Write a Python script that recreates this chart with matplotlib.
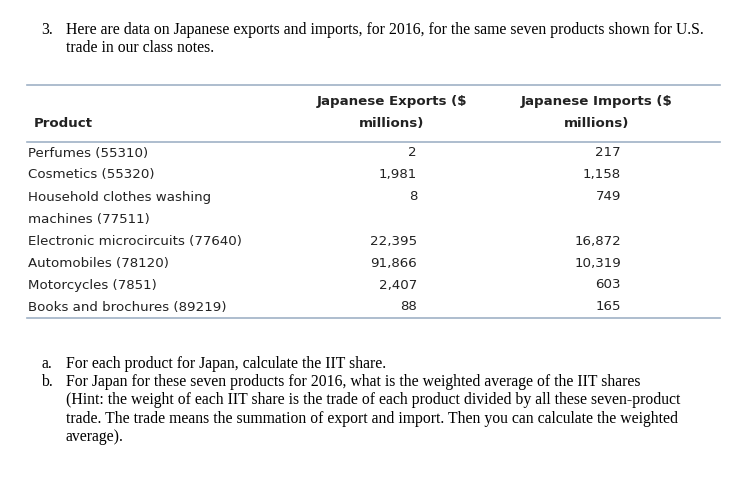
import matplotlib.pyplot as plt

W, H = 739, 493

products = ["Perfumes (55310)", "Cosmetics (55320)", "Household clothes washing",
            "machines (77511)", "Electronic microcircuits (77640)", "Automobiles (78120)",
            "Motorcycles (7851)", "Books and brochures (89219)"]
exports = ["2", "1,981", "8", "", "22,395", "91,866", "2,407", "88"]
imports = ["217", "1,158", "749", "", "16,872", "10,319", "603", "165"]

intro = ["Here are data on Japanese exports and imports, for 2016, for the same seven products shown for U.S.",
         "trade in our class notes."]
part_a = ["For each product for Japan, calculate the IIT share."]
part_b = ["For Japan for these seven products for 2016, what is the weighted average of the IIT shares",
          "(Hint: the weight of each IIT share is the trade of each product divided by all these seven-product",
          "trade. The trade means the summation of export and import. Then you can calculate the weighted",
          "average)."]

fig = plt.figure(figsize=(W / 100, H / 100), dpi=100)
fig.patch.set_facecolor("white")


def txt(x, y, s, **kw):
    fig.text(x / W, 1 - y / H, s, va="center", **kw)


serif = dict(family="Liberation Serif", fontsize=11.3, color="black")
sans = dict(family="DejaVu Sans", fontsize=9.6, color="#222222")

txt(41, 30, "3.", **serif)
for i, line in enumerate(intro):
    txt(66, 30 + 18 * i, line, **serif)

txt(41, 364, "a.", **serif)
txt(66, 364, part_a[0], **serif)
txt(41, 382, "b.", **serif)
for i, line in enumerate(part_b):
    txt(66, 382 + 18.3 * i, line, **serif)

# table lines
for y in (85, 142, 318):
    fig.add_artist(plt.Line2D([27 / W, 720 / W], [1 - y / H] * 2, color="#9fb2c6", lw=1.2))

txt(34, 124, "Product", fontweight="bold", **sans)
txt(392, 102, "Japanese Exports ($", fontweight="bold", ha="center", **sans)
txt(392, 124, "millions)", fontweight="bold", ha="center", **sans)
txt(597, 102, "Japanese Imports ($", fontweight="bold", ha="center", **sans)
txt(597, 124, "millions)", fontweight="bold", ha="center", **sans)

for i, (p, e, m) in enumerate(zip(products, exports, imports)):
    y = 153 + 22 * i
    txt(28, y, p, **sans)
    txt(417, y, e, ha="right", **sans)
    txt(621, y, m, ha="right", **sans)

fig.savefig("out.png", dpi=100)
